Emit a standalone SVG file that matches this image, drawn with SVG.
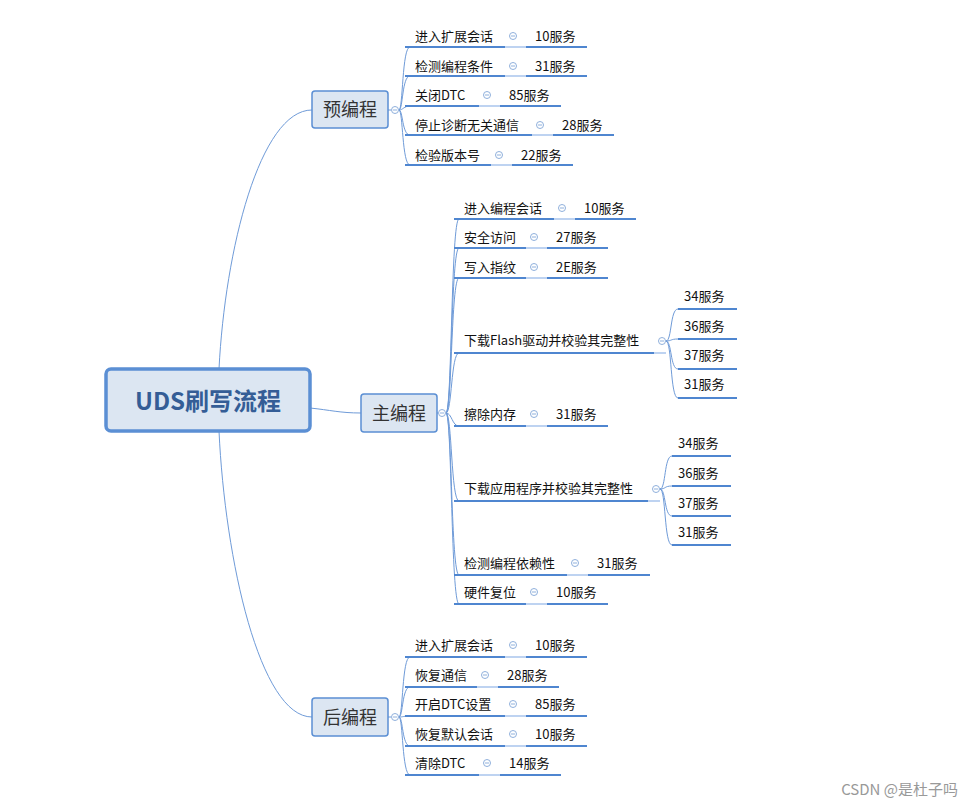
<svg xmlns="http://www.w3.org/2000/svg" width="973" height="808" viewBox="0 0 973 808">
<style>
text{font-family:"Microsoft YaHei","Noto Sans CJK SC","Liberation Sans",sans-serif;fill:#111;font-size:13px}
.ul{stroke:#4f86d0;stroke-width:2;fill:none}
.lt{stroke:#a9c5ec;stroke-width:1.5;fill:none}
.cn{stroke:#6f9bd8;stroke-width:1;fill:none}
.ic{fill:#fff;stroke:#8fb0dc;stroke-width:1}
.icm{stroke:#8fb0dc;stroke-width:1}
.box{fill:#dce6f2;stroke:#5b8fd4;stroke-width:1.5}
.bt{font-size:18px;fill:#333;text-anchor:middle}
</style>
<defs>
<g id="icon"><circle class="ic" r="3.5"/><line class="icm" x1="-2" y1="0" x2="2" y2="0"/></g>
</defs>
<rect width="973" height="808" fill="#fff"/>
<g id="connectors">
<path class="cn" d="M219,369 C225,250 260,110 312,110"/>
<path class="cn" d="M310,408 C330,410 340,413 361,413"/>
<path class="cn" d="M219,431 C225,560 260,717 312,717"/>
<path class="cn" d="M388,110 L391,110"/>
<path class="cn" d="M437,413 L438,413"/>
<path class="cn" d="M388,717 L391,717"/>
<!-- pre -->
<path class="cn" d="M399,110 C403,110 402,47 410,47 M399,110 C403,110 402,76 410,76 M399,110 C403,110 404,106 410,106 M399,110 C403,110 402,135 410,135 M399,110 C403,110 402,165 410,165"/>
<!-- main -->
<path class="cn" d="M446,413 C452,413 451,219 459,219 M446,413 C452,413 451,248 459,248 M446,413 C452,413 451,278 459,278 M446,413 C452,413 451,353 459,353 M446,413 C452,413 452,426 459,426 M446,413 C452,413 451,501 459,501 M446,413 C452,413 451,575 459,575 M446,413 C452,413 451,604 459,604"/>
<!-- flash subs -->
<path class="cn" d="M666,341 C672,341 670,309 678,309 M666,341 C672,341 670,339 678,339 M666,341 C672,341 670,369 678,369 M666,341 C672,341 670,398 678,398"/>
<path class="cn" d="M660,489 C666,489 664,456 672,456 M660,489 C666,489 664,486 672,486 M660,489 C666,489 664,516 672,516 M660,489 C666,489 664,545 672,545"/>
<!-- post -->
<path class="cn" d="M399,717 C403,717 402,657 410,657 M399,717 C403,717 402,687 410,687 M399,717 C403,717 404,716 410,716 M399,717 C403,717 402,746 410,746 M399,717 C403,717 402,775 410,775"/>
</g>
<g id="root"><rect x="106" y="369" width="204" height="62" rx="5" fill="#dce6f2" stroke="#5b8fd4" stroke-width="3.5"/><text x="208" y="410" text-anchor="middle" style="font-size:24px;font-weight:bold;fill:#345d96">UDS刷写流程</text></g>
<g id="pre"><rect class="box" x="312" y="91" width="76" height="37" rx="3"/><text class="bt" x="350" y="116">预编程</text><use href="#icon" x="395" y="110"/></g>
<g id="main"><rect class="box" x="361" y="394" width="76" height="38" rx="3"/><text class="bt" x="399" y="420">主编程</text><use href="#icon" x="442" y="413"/></g>
<g id="post"><rect class="box" x="312" y="698" width="76" height="38" rx="3"/><text class="bt" x="350" y="724">后编程</text><use href="#icon" x="395" y="717"/></g>

<g id="pre1"><text x="415" y="41">进入扩展会话</text><path class="ul" d="M405,47H505"/><path class="lt" d="M505,47H526"/><use href="#icon" x="513" y="36"/><text x="535" y="41">10服务</text><path class="ul" d="M526,47H587"/></g>
<g id="pre2"><text x="415" y="71">检测编程条件</text><path class="ul" d="M405,76H505"/><path class="lt" d="M505,76H526"/><use href="#icon" x="513" y="66"/><text x="535" y="71">31服务</text><path class="ul" d="M526,76H587"/></g>
<g id="pre3"><text x="415" y="100">关闭DTC</text><path class="ul" d="M405,106H479"/><path class="lt" d="M479,106H500"/><use href="#icon" x="487" y="95"/><text x="509" y="100">85服务</text><path class="ul" d="M500,106H561"/></g>
<g id="pre4"><text x="415" y="130">停止诊断无关通信</text><path class="ul" d="M405,135H532"/><path class="lt" d="M532,135H553"/><use href="#icon" x="540" y="125"/><text x="562" y="130">28服务</text><path class="ul" d="M553,135H614"/></g>
<g id="pre5"><text x="415" y="160">检验版本号</text><path class="ul" d="M405,165H491"/><path class="lt" d="M491,165H512"/><use href="#icon" x="499" y="155"/><text x="521" y="160">22服务</text><path class="ul" d="M512,165H573"/></g>

<g id="m1"><text x="464" y="213">进入编程会话</text><path class="ul" d="M454,219H554"/><path class="lt" d="M554,219H575"/><use href="#icon" x="562" y="208"/><text x="584" y="213">10服务</text><path class="ul" d="M575,219H636"/></g>
<g id="m2"><text x="464" y="242">安全访问</text><path class="ul" d="M454,248H526"/><path class="lt" d="M526,248H547"/><use href="#icon" x="534" y="237"/><text x="556" y="242">27服务</text><path class="ul" d="M547,248H608"/></g>
<g id="m3"><text x="464" y="272">写入指纹</text><path class="ul" d="M454,278H526"/><path class="lt" d="M526,278H547"/><use href="#icon" x="534" y="267"/><text x="556" y="272">2E服务</text><path class="ul" d="M547,278H608"/></g>
<g id="m4"><text x="464" y="345">下载Flash驱动并校验其完整性</text><path class="ul" d="M454,353H654"/><path class="lt" d="M654,353H666"/><use href="#icon" x="662" y="341"/>
<text x="684" y="301">34服务</text><path class="ul" d="M678,309H737"/>
<text x="684" y="331">36服务</text><path class="ul" d="M678,339H737"/>
<text x="684" y="360">37服务</text><path class="ul" d="M678,369H737"/>
<text x="684" y="389">31服务</text><path class="ul" d="M678,398H737"/></g>
<g id="m5"><text x="464" y="419">擦除内存</text><path class="ul" d="M454,426H526"/><path class="lt" d="M526,426H547"/><use href="#icon" x="534" y="414"/><text x="556" y="419">31服务</text><path class="ul" d="M547,426H608"/></g>
<g id="m6"><text x="464" y="493">下载应用程序并校验其完整性</text><path class="ul" d="M454,501H648"/><path class="lt" d="M648,501H660"/><use href="#icon" x="656" y="489"/>
<text x="678" y="448">34服务</text><path class="ul" d="M672,456H731"/>
<text x="678" y="478">36服务</text><path class="ul" d="M672,486H731"/>
<text x="678" y="508">37服务</text><path class="ul" d="M672,516H731"/>
<text x="678" y="537">31服务</text><path class="ul" d="M672,545H731"/></g>
<g id="m7"><text x="464" y="568">检测编程依赖性</text><path class="ul" d="M454,575H567"/><path class="lt" d="M567,575H588"/><use href="#icon" x="575" y="563"/><text x="597" y="568">31服务</text><path class="ul" d="M588,575H650"/></g>
<g id="m8"><text x="464" y="597">硬件复位</text><path class="ul" d="M454,604H526"/><path class="lt" d="M526,604H547"/><use href="#icon" x="534" y="592"/><text x="556" y="597">10服务</text><path class="ul" d="M547,604H608"/></g>

<g id="post1"><text x="415" y="650">进入扩展会话</text><path class="ul" d="M405,657H505"/><path class="lt" d="M505,657H526"/><use href="#icon" x="513" y="645"/><text x="535" y="650">10服务</text><path class="ul" d="M526,657H587"/></g>
<g id="post2"><text x="415" y="680">恢复通信</text><path class="ul" d="M405,687H477"/><path class="lt" d="M477,687H498"/><use href="#icon" x="485" y="675"/><text x="507" y="680">28服务</text><path class="ul" d="M498,687H559"/></g>
<g id="post3"><text x="415" y="709">开启DTC设置</text><path class="ul" d="M405,716H505"/><path class="lt" d="M505,716H526"/><use href="#icon" x="513" y="704"/><text x="535" y="709">85服务</text><path class="ul" d="M526,716H587"/></g>
<g id="post4"><text x="415" y="739">恢复默认会话</text><path class="ul" d="M405,746H505"/><path class="lt" d="M505,746H526"/><use href="#icon" x="513" y="734"/><text x="535" y="739">10服务</text><path class="ul" d="M526,746H587"/></g>
<g id="post5"><text x="415" y="768">清除DTC</text><path class="ul" d="M405,775H479"/><path class="lt" d="M479,775H500"/><use href="#icon" x="487" y="763"/><text x="509" y="768">14服务</text><path class="ul" d="M500,775H561"/></g>

<text x="958" y="795" text-anchor="end" style="font-size:15px;fill:#999">CSDN @是杜子吗</text>
</svg>
